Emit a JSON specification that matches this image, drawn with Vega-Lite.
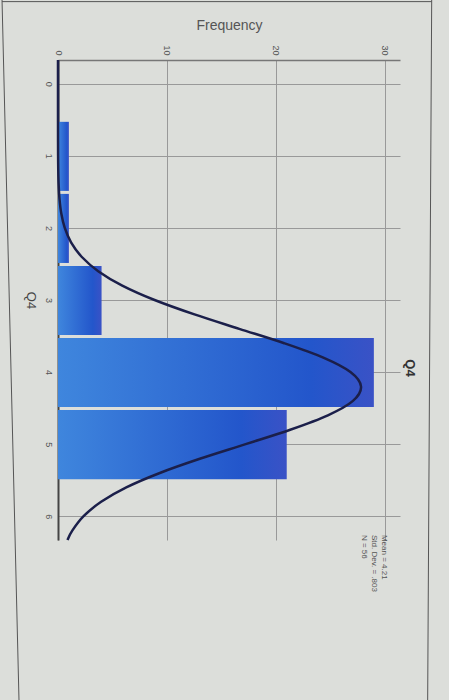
{
  "$schema": "https://vega.github.io/schema/vega-lite/v6.json",
  "width": 342,
  "height": 480,
  "autosize": {"type": "none"},
  "padding": {"left": 58, "top": 60, "right": 49, "bottom": 160},
  "background": "#dcdeda",
  "title": {"text": "Q4", "orient": "right", "anchor": "middle", "offset": -29, "dx": 68, "fontSize": 13, "fontWeight": "bold", "color": "#333333", "font": "Liberation Sans"},
  "datasets": {
    "bars": [
      {"q": 0.5, "q2": 1.5, "f": 1},
      {"q": 1.5, "q2": 2.5, "f": 1},
      {"q": 2.5, "q2": 3.5, "f": 4},
      {"q": 3.5, "q2": 4.5, "f": 29},
      {"q": 4.5, "q2": 5.5, "f": 21}
    ],
    "curve": [
      {"q": -0.33, "f": 0}, {"q": 0.0, "f": 0}, {"q": 0.4, "f": 0.0004}, {"q": 0.8, "f": 0.0033},
      {"q": 1.0, "f": 0.0092}, {"q": 1.2, "f": 0.024}, {"q": 1.4, "f": 0.06}, {"q": 1.6, "f": 0.139},
      {"q": 1.8, "f": 0.303}, {"q": 2.0, "f": 0.622}, {"q": 2.2, "f": 1.198}, {"q": 2.4, "f": 2.168},
      {"q": 2.6, "f": 3.69}, {"q": 2.8, "f": 5.9}, {"q": 3.0, "f": 8.87}, {"q": 3.2, "f": 12.53},
      {"q": 3.4, "f": 16.64}, {"q": 3.6, "f": 20.77}, {"q": 3.8, "f": 24.36}, {"q": 4.0, "f": 26.85},
      {"q": 4.2, "f": 27.82}, {"q": 4.4, "f": 27.08}, {"q": 4.6, "f": 24.78}, {"q": 4.8, "f": 21.32},
      {"q": 5.0, "f": 17.23}, {"q": 5.2, "f": 13.09}, {"q": 5.4, "f": 9.35}, {"q": 5.6, "f": 6.27},
      {"q": 5.8, "f": 3.96}, {"q": 6.0, "f": 2.35}, {"q": 6.2, "f": 1.31}, {"q": 6.33, "f": 0.87}
    ]
  },
  "layer": [
    {
      "data": {"name": "bars"},
      "mark": {
        "type": "bar",
        "fill": {"gradient": "linear", "x1": 0, "y1": 0, "x2": 1, "y2": 0, "stops": [
          {"offset": 0, "color": "#3f86dd"},
          {"offset": 0.8, "color": "#2356cb"},
          {"offset": 1, "color": "#3a52c6"}
        ]}
      },
      "encoding": {
        "x": {"field": "f", "type": "quantitative",
          "scale": {"domain": [0, 31.4], "nice": false, "zero": true},
          "axis": {"orient": "top", "title": "Frequency", "values": [0, 10, 20, 30], "labelAngle": 90,
            "labelFontSize": 9, "labelColor": "#555555", "labelPadding": 5, "ticks": false, "format": "d",
            "titleFontSize": 14, "titleColor": "#555555", "titleFontWeight": "normal", "titlePadding": 12,
            "domainColor": "#777777", "domainWidth": 1.5, "grid": true, "gridColor": "#999999", "gridWidth": 1}},
        "y": {"field": "q", "type": "quantitative", "bin": {"binned": true},
          "scale": {"domain": [-0.33, 6.33], "nice": false, "zero": false, "reverse": true},
          "axis": {"title": "Q4", "values": [0, 1, 2, 3, 4, 5, 6], "labelAngle": 90, "titleAngle": 90, "format": "d",
            "labelFontSize": 9, "labelColor": "#555555", "labelPadding": 6, "ticks": false,
            "titleFontSize": 13, "titleColor": "#444444", "titleFontWeight": "normal", "titlePadding": 20,
            "domainColor": "#444444", "domainWidth": 2, "grid": true, "gridColor": "#999999", "gridWidth": 1}},
        "y2": {"field": "q2"}
      }
    },
    {
      "data": {"name": "curve"},
      "mark": {"type": "line", "color": "#1b1f4a", "strokeWidth": 2.5, "interpolate": "cardinal"},
      "encoding": {
        "x": {"field": "f", "type": "quantitative"},
        "y": {"field": "q", "type": "quantitative"},
        "order": {"field": "q", "type": "quantitative"}
      }
    },
    {
      "data": {"values": [{}]},
      "mark": {"type": "text", "angle": 90, "align": "left", "baseline": "top", "fontSize": 8, "lineHeight": 10, "color": "#555555", "font": "Liberation Sans"},
      "encoding": {
        "x": {"datum": 30.3, "type": "quantitative"},
        "y": {"datum": 6.26, "type": "quantitative"},
        "text": {"value": ["Mean = 4.21", "Std. Dev. = .803", "N = 56"]}
      }
    },
    {
      "data": {"values": [{}]},
      "mark": {"type": "rule", "color": "#555555", "strokeWidth": 1},
      "encoding": {
        "x": {"datum": -5.14, "type": "quantitative"},
        "x2": {"datum": -3.58},
        "y": {"datum": -1.17, "type": "quantitative"},
        "y2": {"datum": 8.56}
      }
    },
    {
      "data": {"values": [{}]},
      "mark": {"type": "rule", "color": "#555555", "strokeWidth": 1},
      "encoding": {
        "x": {"datum": 34.31, "type": "quantitative"},
        "x2": {"datum": 33.94},
        "y": {"datum": -1.17, "type": "quantitative"},
        "y2": {"datum": 8.56}
      }
    },
    {
      "data": {"values": [{}]},
      "mark": {"type": "rule", "color": "#555555", "strokeWidth": 1},
      "encoding": {
        "x": {"datum": -5.14, "type": "quantitative"},
        "x2": {"datum": 34.31},
        "y": {"datum": -1.14, "type": "quantitative"}
      }
    }
  ],
  "config": {
    "view": {"stroke": null},
    "font": "Liberation Sans",
    "bar": {"binSpacing": 3}
  }
}
